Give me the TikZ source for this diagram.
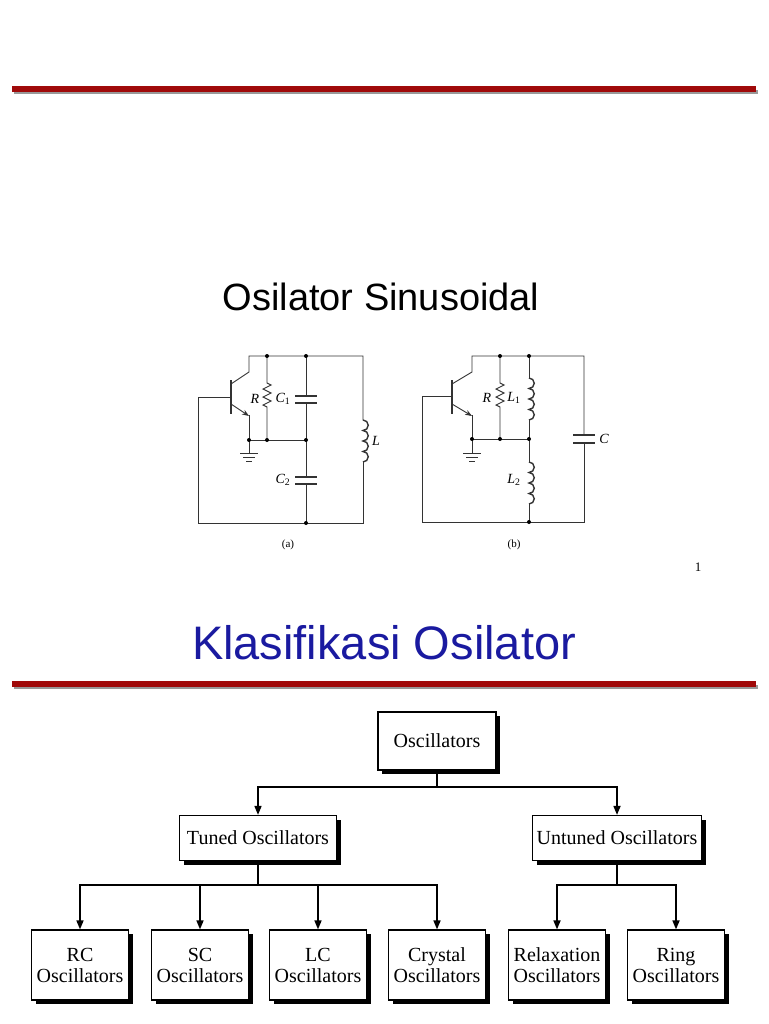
\documentclass[tikz,border=0pt]{standalone}
\usepackage{fontspec}
\setmainfont{Liberation Serif}
\newfontfamily\arialf{Liberation Sans}
\usetikzlibrary{shadows,arrows.meta}
\definecolor{barred}{HTML}{A00A0A}
\definecolor{titleblue}{HTML}{1A1AA0}
\begin{document}
\begin{tikzpicture}[x=1pt,y=-1pt,
  wire/.style={line width=0.9pt,black!80},
  dot/.style={circle,fill=black,inner sep=0pt,minimum size=4pt},
  box/.style={draw,line width=1.2pt,fill=white,font=\fontsize{20}{21}\selectfont,align=center,
    drop shadow={shadow xshift=4pt,shadow yshift=-4pt,fill=black,opacity=1},inner sep=2pt},
  conn/.style={line width=1.6pt,-{Triangle[length=9pt,width=7pt]}},
  lbl/.style={font=\fontsize{14}{14}\selectfont\itshape}]
\useasboundingbox (0,0) rectangle (768,1024);
\fill[white] (0,0) rectangle (768,1024);
% bars
\fill[black!40] (14,90) rectangle (758,94);
\fill[barred] (12,86) rectangle (756,92);
\fill[black!40] (14,685) rectangle (758,689);
\fill[barred] (12,681) rectangle (756,687);
\node[font=\arialf\fontsize{38}{38}\selectfont] (t1) at (381,297) {Osilator Sinusoidal};
\node[font=\fontsize{13}{13}\selectfont] (pg) at (698,567) {1};
\node[font=\arialf\fontsize{47}{47}\selectfont,text=titleblue] (t2) at (384,643) {Klasifikasi Osilator};
% ---------- circuit (a)
\begin{scope}[wire]
\draw (198,397) -- (231,397) (198,397) -- (198,523) -- (363,523) -- (363,462);
\draw (363,420) -- (363,356) -- (249,356) -- (249,372) -- (231,384);
\draw[line width=1.5pt] (231,380) -- (231,414);
\draw[-{Stealth[length=7pt]}] (231,404) -- (249,416);
\draw (249,415) -- (249,453);
\draw (240,453) -- (258,453) (243,457) -- (255,457) (246,461) -- (252,461);
\draw (249,440) -- (306,440);
\draw (267,356) -- (267,383) -- ++(4,2) -- ++(-8,4) -- ++(8,4) -- ++(-8,4) -- ++(8,4) -- ++(-8,4) -- ++(4,2) -- (267,440);
\draw (306,356) -- (306,396) (306,403) -- (306,477) (306,484) -- (306,523);
\draw[line width=1.5pt] (295,396) -- (317,396) (295,403) -- (317,403);
\draw[line width=1.5pt] (295,477) -- (317,477) (295,484) -- (317,484);
\draw[line width=1.4pt] (363,420) arc(-90:90:5.25) arc(-90:90:5.25) arc(-90:90:5.25) arc(-90:90:5.25);
\end{scope}
\foreach \p in {(267,356),(306,356),(249,440),(267,440),(306,440),(306,523)} \node[dot] at \p {};
\node[lbl] (ra) at (255,399) {R};
\node[lbl] (c1a) at (283,399) {C\textsubscript{\upshape 1}};
\node[lbl] (c2a) at (283,480) {C\textsubscript{\upshape 2}};
\node[lbl] (la) at (376,441) {L};
\node[font=\fontsize{11}{11}\selectfont] (capa) at (288,545) {(a)};
% ---------- circuit (b)
\begin{scope}[wire]
\draw (422,396) -- (452,396) (422,396) -- (422,522) -- (584,522) -- (584,443);
\draw (584,435) -- (584,356) -- (472,356) -- (472,372) -- (452,384);
\draw[line width=1.5pt] (452,380) -- (452,414);
\draw[-{Stealth[length=7pt]}] (452,404) -- (472,416);
\draw (472,415) -- (472,453);
\draw (463,453) -- (481,453) (466,457) -- (478,457) (469,461) -- (475,461);
\draw (472,439) -- (529,439);
\draw (500,356) -- (500,383) -- ++(4,2) -- ++(-8,4) -- ++(8,4) -- ++(-8,4) -- ++(8,4) -- ++(-8,4) -- ++(4,2) -- (500,439);
\draw (529,356) -- (529,378) (529,420) -- (529,462) (529,504) -- (529,522);
\draw[line width=1.4pt] (529,378) arc(-90:90:5.25) arc(-90:90:5.25) arc(-90:90:5.25) arc(-90:90:5.25);
\draw[line width=1.4pt] (529,462) arc(-90:90:5.25) arc(-90:90:5.25) arc(-90:90:5.25) arc(-90:90:5.25);
\draw[line width=1.5pt] (573,435) -- (595,435) (573,443) -- (595,443);
\end{scope}
\foreach \p in {(500,356),(529,356),(472,439),(500,439),(529,439),(529,522)} \node[dot] at \p {};
\node[lbl] (rb) at (487,398) {R};
\node[lbl] (l1b) at (514,398) {L\textsubscript{\upshape 1}};
\node[lbl] (l2b) at (514,480) {L\textsubscript{\upshape 2}};
\node[lbl] (cb) at (604,439) {C};
\node[font=\fontsize{11}{11}\selectfont] (capb) at (514,545) {(b)};
% ---------- tree
\node[box,minimum width=118pt,minimum height=58pt] (osc) at (437,741) {Oscillators};
\node[box,minimum width=157pt,minimum height=45pt] (tun) at (258,838) {Tuned Oscillators};
\node[box,minimum width=169pt,minimum height=45pt] (unt) at (617,838) {Untuned Oscillators};
\foreach \n/\x/\t in {rc/80/RC, sc/200/SC, lc/318/LC, cr/437/Crystal, rel/557/Relaxation, ring/676/Ring}
  \node[box,minimum width=97pt,minimum height=70pt] (\n) at (\x,965) {\t\\Oscillators};
\draw[line width=1.6pt] (osc.south) -- (437,787);
\draw[conn] (437,787) -| (tun.north);
\draw[conn] (437,787) -| (unt.north);
\draw[line width=1.6pt] (tun.south) -- (258,885);
\foreach \n in {rc,sc,lc,cr} \draw[conn] (258,885) -| (\n.north);
\draw[line width=1.6pt] (unt.south) -- (617,885);
\foreach \n in {rel,ring} \draw[conn] (617,885) -| (\n.north);
\end{tikzpicture}
\end{document}
